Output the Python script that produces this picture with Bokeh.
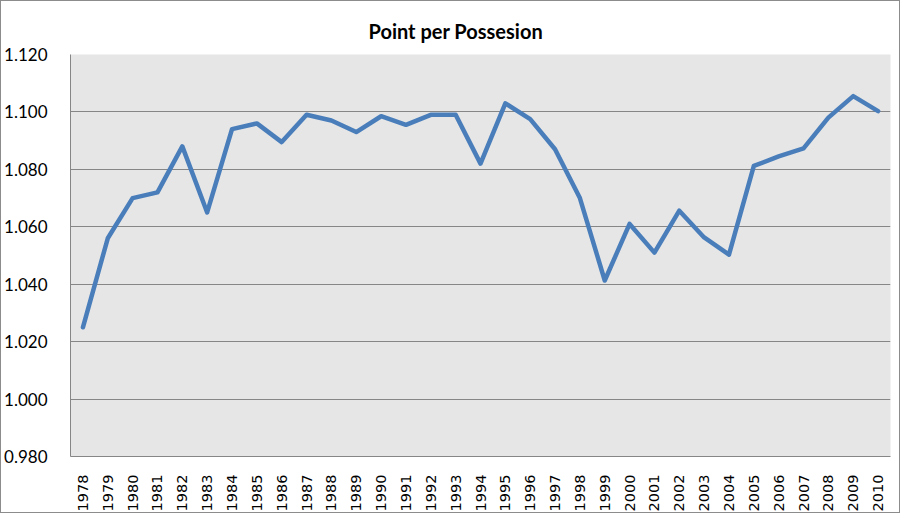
from bokeh.plotting import figure
from bokeh.models import FixedTicker, NumeralTickFormatter, Range1d
from bokeh.embed import file_html
from bokeh.resources import INLINE

years = [str(y) for y in range(1978, 2011)]
ppp = [1.025, 1.056, 1.070, 1.072, 1.088, 1.065, 1.094, 1.096, 1.0895, 1.099,
       1.097, 1.093, 1.0985, 1.0955, 1.099, 1.099, 1.082, 1.103, 1.0975, 1.087,
       1.070, 1.0413, 1.061, 1.051, 1.0656, 1.0563, 1.0503, 1.0812, 1.0845, 1.0873,
       1.098, 1.1055, 1.1003]
y_ticks = [0.98, 1.00, 1.02, 1.04, 1.06, 1.08, 1.10, 1.12]
title_text = "Point per Possesion"

p = figure(width=900, height=513, x_range=years, y_range=Range1d(0.98, 1.12),
           output_backend="svg", toolbar_location=None,
           min_border_left=67, min_border_right=11, min_border_top=53, min_border_bottom=56)
p.styles = {"border": "1px solid #8c8c8c"}

p.title.text = title_text
p.title.align = "left"
p.title.offset = 298
p.title.text_font = "Lato"
p.title.text_font_style = "bold"
p.title.text_font_size = "20px"
p.title.text_color = "#000000"
p.title.standoff = 24

p.background_fill_color = "#e6e6e6"
p.border_fill_color = "#ffffff"
p.outline_line_color = None

p.line(x=years, y=ppp, line_color="#4a7ebb", line_width=4.5, line_join="round", line_cap="round")

p.x_range.range_padding = 0
p.yaxis.ticker = FixedTicker(ticks=y_ticks)
p.yaxis.formatter = NumeralTickFormatter(format="0.000")
p.ygrid.ticker = FixedTicker(ticks=y_ticks)
p.ygrid.grid_line_color = "#868686"
p.ygrid.grid_line_width = 1
p.xgrid.grid_line_color = None

for ax in (p.xaxis, p.yaxis):
    ax.axis_line_color = "#868686"
    ax.axis_line_width = 1
    ax.major_tick_line_color = None
    ax.minor_tick_line_color = None
    ax.major_label_text_color = "#000000"

p.yaxis.major_label_text_font = "Lato"
p.yaxis.major_label_text_font_size = "17px"
p.yaxis.major_label_standoff = 17

p.xaxis.major_label_orientation = 1.5708
p.xaxis.major_label_text_font = "DejaVu Sans"
p.xaxis.major_label_text_font_size = "14.5px"
p.xaxis.major_label_standoff = 12

open("out.html", "w").write(file_html(p, INLINE))
